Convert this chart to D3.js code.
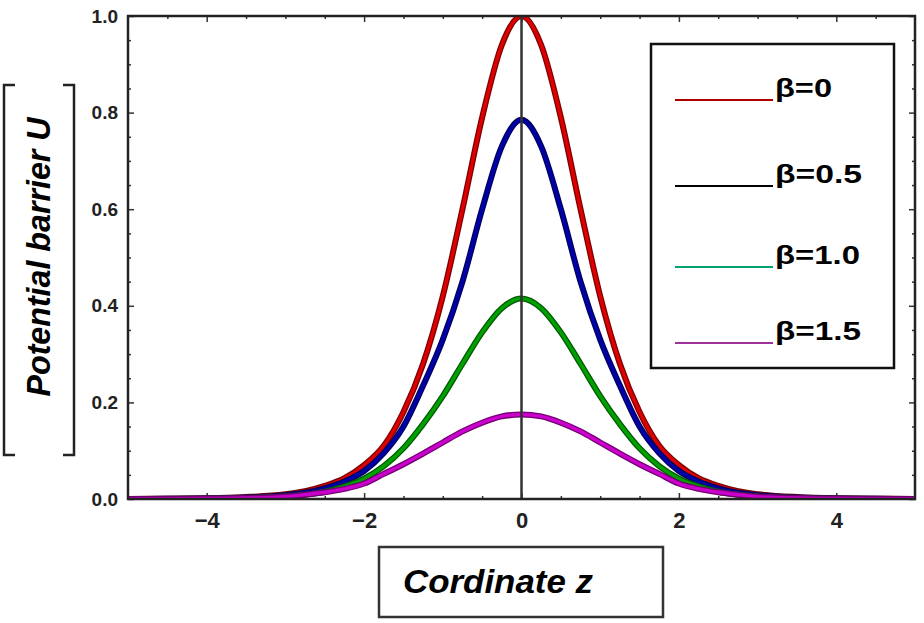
<!DOCTYPE html>
<html>
<head>
<meta charset="utf-8">
<script src="https://cdn.jsdelivr.net/npm/d3@7"></script>
<style>
  body { margin: 0; background: #fff; }
  svg { display: block; font-family: "Liberation Sans", Arial, sans-serif; }
  .tick text { font-weight: bold; fill: #222; }
</style>
</head>
<body>
<svg id="chart" width="924" height="623"></svg>
<script>
// coordinate z (every 0.25 near the middle)
var zValues = [-5, -4.5, -4, -3.5, -3, -2.75, -2.5, -2.25, -2, -1.75, -1.5, -1.25, -1, -0.75, -0.5, -0.25,
    0, 0.25, 0.5, 0.75, 1, 1.25, 1.5, 1.75, 2, 2.25, 2.5, 2.75, 3, 3.5, 4, 4.5, 5];

var beta0 = [0.0002, 0.0005, 0.0013, 0.004, 0.01, 0.016, 0.027, 0.043, 0.07, 0.11, 0.18, 0.28, 0.42, 0.60, 0.79, 0.94,
    1.0, 0.94, 0.79, 0.60, 0.42, 0.28, 0.18, 0.11, 0.07, 0.043, 0.027, 0.016, 0.01, 0.004, 0.0013, 0.0005, 0.0002];
var beta05 = [0.0001, 0.0004, 0.001, 0.003, 0.008, 0.013, 0.022, 0.036, 0.058, 0.095, 0.15, 0.235, 0.33, 0.45, 0.60, 0.73,
    0.785, 0.73, 0.60, 0.45, 0.33, 0.235, 0.15, 0.095, 0.058, 0.036, 0.022, 0.013, 0.008, 0.003, 0.001, 0.0004, 0.0001];
var beta10 = [0.0001, 0.0002, 0.0006, 0.002, 0.005, 0.009, 0.015, 0.026, 0.042, 0.068, 0.105, 0.155, 0.213, 0.28, 0.345, 0.395,
    0.415, 0.395, 0.345, 0.28, 0.213, 0.155, 0.105, 0.068, 0.042, 0.026, 0.015, 0.009, 0.005, 0.002, 0.0006, 0.0002, 0.0001];
var beta15 = [0.0001, 0.0003, 0.001, 0.002, 0.005, 0.009, 0.014, 0.021, 0.032, 0.052, 0.072, 0.094, 0.117, 0.14, 0.158, 0.171,
    0.175, 0.171, 0.158, 0.14, 0.117, 0.094, 0.072, 0.052, 0.032, 0.021, 0.014, 0.009, 0.005, 0.002, 0.001, 0.0003, 0.0001];

var legendLabels = ["β=0", "β=0.5", "β=1.0", "β=1.5"];
var curveColors = ["#dd0000", "#0000a8", "#00a000", "#cc00cc"];
var legendColors = ["#b00000", "#000000", "#00a070", "#a0309a"];

var xMajor = [-4, -2, 0, 2, 4];
var xMinor = [-4.5, -3.5, -3, -2.5, -1.5, -1, -0.5, 0.5, 1, 1.5, 2.5, 3, 3.5, 4.5];
var yMajor = [0, 0.2, 0.4, 0.6, 0.8, 1.0];
var yMinor = [0.05, 0.1, 0.15, 0.25, 0.3, 0.35, 0.45, 0.5, 0.55, 0.65, 0.7, 0.75, 0.85, 0.9, 0.95];

var series = [beta0, beta05, beta10, beta15];

var svg = d3.select("#chart"),
    margin = {top: 16, right: 9, bottom: 124, left: 128},
    width = +svg.attr("width") - margin.left - margin.right,
    height = +svg.attr("height") - margin.top - margin.bottom;

var x = d3.scaleLinear().domain([-5, 5]).range([0, width]);
var y = d3.scaleLinear().domain([0, 1]).range([height, 0]);

var g = svg.append("g")
    .attr("transform", "translate(" + margin.left + "," + margin.top + ")");

g.append("clipPath").attr("id", "plotclip")
  .append("rect").attr("width", width).attr("height", height);

// ticks (all pointing inwards)
function tickAxis(axis, vals, size, fmt, pad) {
    return axis.tickValues(vals).tickSize(-size).tickPadding(pad).tickFormat(fmt);
}

g.append("g").attr("transform", "translate(0," + height + ")")
    .call(tickAxis(d3.axisBottom(x), xMajor, 6, d3.format("d"), 13))
    .style("font-size", "22px");
g.append("g").attr("transform", "translate(0," + height + ")")
    .call(tickAxis(d3.axisBottom(x), xMinor, 3, "", 0));
g.append("g")
    .call(tickAxis(d3.axisTop(x), xMajor, 6, "", 0));
g.append("g")
    .call(tickAxis(d3.axisTop(x), xMinor, 3, "", 0));

g.append("g")
    .call(tickAxis(d3.axisLeft(y), yMajor, 6, d3.format(".1f"), 10))
    .style("font-size", "19px");
g.append("g")
    .call(tickAxis(d3.axisLeft(y), yMinor, 3, "", 0));
g.append("g").attr("transform", "translate(" + width + ",0)")
    .call(tickAxis(d3.axisRight(y), yMajor, 6, "", 0));
g.append("g").attr("transform", "translate(" + width + ",0)")
    .call(tickAxis(d3.axisRight(y), yMinor, 3, "", 0));

g.selectAll(".domain").remove();
g.selectAll(".tick line").attr("stroke", "#333").attr("stroke-width", 1.5);

// curves
var line = d3.line()
    .x(function(d, i) { return x(zValues[i]); })
    .y(function(d) { return y(d); })
    .curve(d3.curveMonotoneX);

var curves = g.append("g").attr("clip-path", "url(#plotclip)");

series.forEach(function(s, i) {
    curves.append("path")
        .attr("d", line(s))
        .attr("fill", "none")
        .attr("stroke", d3.color(curveColors[i]).darker(1.6))
        .attr("stroke-width", 6);
    curves.append("path")
        .attr("d", line(s))
        .attr("fill", "none")
        .attr("stroke", curveColors[i])
        .attr("stroke-width", 3.4);
});

// vertical line at z = 0
g.append("line")
    .attr("x1", x(0)).attr("x2", x(0))
    .attr("y1", 0).attr("y2", height)
    .attr("stroke", "#333")
    .attr("stroke-width", 2.5);

// frame
g.append("rect")
    .attr("width", width).attr("height", height)
    .attr("fill", "none")
    .attr("stroke", "#222")
    .attr("stroke-width", 2.5);

// legend
var legend = svg.append("g");
legend.append("rect")
    .attr("x", 651).attr("y", 44)
    .attr("width", 243).attr("height", 324)
    .attr("fill", "#fff")
    .attr("stroke", "#111")
    .attr("stroke-width", 2.5);

var legendLineY = [100, 186, 267, 343];
var legendTextW = [57, 87, 85, 86];

legendLabels.forEach(function(lab, i) {
    legend.append("line")
        .attr("x1", 675).attr("x2", 773)
        .attr("y1", legendLineY[i]).attr("y2", legendLineY[i])
        .attr("stroke", legendColors[i])
        .attr("stroke-width", 2);
    legend.append("text")
        .attr("x", 775).attr("y", legendLineY[i] - 3)
        .attr("font-size", 26)
        .attr("font-weight", "bold")
        .attr("textLength", legendTextW[i])
        .attr("lengthAdjust", "spacingAndGlyphs")
        .text(lab);
});

// y label box (bracket style)
var yl = svg.append("g").attr("stroke", "#222").attr("stroke-width", 2.5).attr("fill", "none");
yl.append("path").attr("d", "M15,85 H4 V455 H15");
yl.append("path").attr("d", "M63,85 H74 V455 H63");

svg.append("text")
    .attr("transform", "translate(50,257) rotate(-90)")
    .attr("text-anchor", "middle")
    .attr("font-size", 33)
    .attr("font-weight", "bold")
    .attr("font-style", "italic")
    .attr("textLength", 279)
    .attr("lengthAdjust", "spacingAndGlyphs")
    .text("Potential barrier U");

// x label box
svg.append("rect")
    .attr("x", 379).attr("y", 547)
    .attr("width", 284).attr("height", 70)
    .attr("fill", "#fff")
    .attr("stroke", "#333")
    .attr("stroke-width", 2.5);

svg.append("text")
    .attr("x", 403).attr("y", 593)
    .attr("font-size", 34)
    .attr("font-weight", "bold")
    .attr("font-style", "italic")
    .attr("textLength", 190)
    .attr("lengthAdjust", "spacingAndGlyphs")
    .text("Cordinate z");
</script>
</body>
</html>
